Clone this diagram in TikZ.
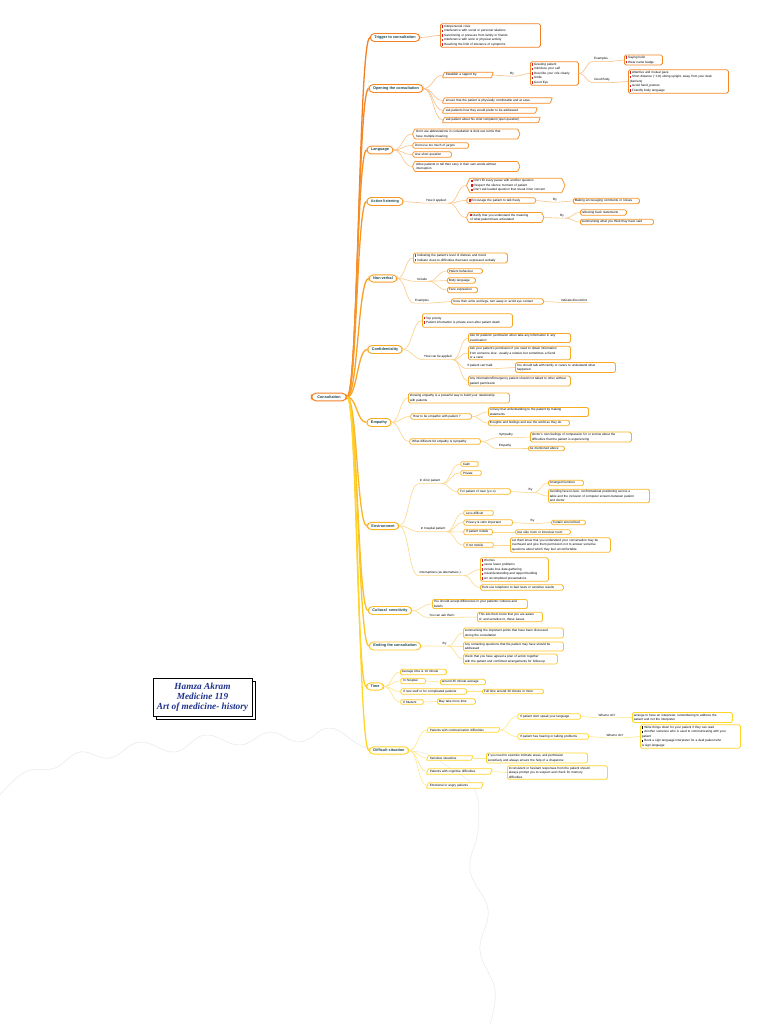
\documentclass[tikz,border=0pt]{standalone}
\usepackage{fontspec}
\setmainfont{Liberation Sans}
\newfontfamily\titleserif{Liberation Serif}
\usetikzlibrary{shapes.geometric,shapes.symbols,shadows,calc}
\definecolor{mmA}{RGB}{244,128,36}
\definecolor{mmB}{RGB}{255,214,40}
\colorlet{b1}{mmB!0!mmA}
\colorlet{b2}{mmB!9!mmA}
\colorlet{b3}{mmB!18!mmA}
\colorlet{b4}{mmB!27!mmA}
\colorlet{b5}{mmB!36!mmA}
\colorlet{b6}{mmB!45!mmA}
\colorlet{b7}{mmB!54!mmA}
\colorlet{b8}{mmB!63!mmA}
\colorlet{b9}{mmB!72!mmA}
\colorlet{b10}{mmB!81!mmA}
\colorlet{b11}{mmB!90!mmA}
\colorlet{b12}{mmB!99!mmA}
\colorlet{brc}{b1}
\definecolor{topictext}{RGB}{28,72,78}
\definecolor{prired}{RGB}{214,30,38}
\definecolor{titleblue}{RGB}{30,50,140}
\newcommand{\boxfont}{\fontsize{3.1}{4.5}\selectfont}
\newcommand{\topicfont}{\fontsize{3.8}{4.6}\selectfont\bfseries}
\newcommand{\pri}{\textcolor{prired}{\rule[-.3pt]{1.4pt}{2.5pt}}\hspace{.9pt}}
\newcommand{\blk}{\rule[-.3pt]{1.6pt}{2.3pt}\hspace{.9pt}}

\begin{document}
\begin{tikzpicture}[x=1pt, y=-1pt,
  root/.style={draw=mmA, line width=1pt, fill=white, rounded corners=5pt, inner xsep=6pt, inner ysep=2.6pt, font=\topicfont, text=topictext},
  topic/.style={draw=brc, line width=.9pt, fill=white, rounded corners=4pt, inner xsep=4pt, inner ysep=2.2pt, font=\topicfont, text=topictext},
  box/.style={draw=brc, line width=.75pt, fill=white, rounded corners=1.5pt, inner xsep=1.5pt, inner ysep=1.2pt, align=left, font=\boxfont, text width=#1, anchor=west},
  hex/.style={box=#1, shape=signal, signal to=east and west, signal pointer angle=130, rounded corners=.6pt},
  para/.style={box=#1, shape=trapezium, trapezium left angle=70, trapezium right angle=110, rounded corners=.6pt},
  lbl/.style={font=\boxfont, inner sep=1pt},
  main/.style={line width=1.3pt},
  sub/.style={draw=brc!55, line width=.6pt},
  link/.style={to path={.. controls ($(\tikztostart -| \tikztotarget)!.5!(\tikztostart)$) and ($(\tikztotarget -| \tikztostart)!.5!(\tikztotarget)$) .. (\tikztotarget)}},
  title/.style={draw=black, line width=.8pt, fill=white, copy shadow={shadow xshift=3pt, shadow yshift=-3pt}, minimum width=99pt, minimum height=38pt, inner xsep=1pt, align=center, text=titleblue, font=\titleserif\fontsize{9.3}{10.2}\selectfont\bfseries\itshape}
]
\useasboundingbox (0,0) rectangle (768,1024);
\fill[white] (0,0) rectangle (768,1024);

% faint sketch under the map
\draw[gray!18, line width=.5pt] plot[smooth, tension=.7] coordinates {(0,795) (25,772) (55,768) (80,752) (110,758) (140,742) (175,752) (205,735) (240,745) (270,732) (300,742) (330,728) (360,745) (390,755) (420,752) (450,768) (475,790) (478,830) (470,870) (488,910) (480,950) (495,990) (490,1024)};

% title
\node[title] (ttl) at (202.5,697) {Hamza Akram\\Medicine 119\\Art of medicine- history};

\node[root] (R) at (329,397) {Consultation};

% trigger
\begin{scope}
\colorlet{brc}{b1}
\node[topic] (T) at (395,37.5) {Trigger to consultation};
\node[box=97pt] (T1) at (440,35.5) {\pri Interpersonal crisis\\ \pri Interference with social or personal relations\\ \pri Sanctioning or pressure from family or friends\\ \pri Interference with work or physical activity\\ \pri Reaching the limit of tolerance of symptoms};
\draw[main, b1] (R.east) to[link] (T.west);
\draw[sub] (T.east) to[link] (T1.west);
\end{scope}

% opening
\begin{scope}
\colorlet{brc}{b2}
\node[topic] (O) at (396,88.5) {Opening the consultation};
\node[para=44pt] (O1) at (443,75) {Establish a rapport by:};
\node[lbl] (O1l) at (512,73.5) {By};
\node[box=45pt] (O2) at (530,73.5) {\pri Greeting patient\\ \pri Introduce your self\\ \pri Describe your role clearly\\ \pri Smile\\ \pri Good Eye};
\node[lbl] (O2a) at (601,59) {Examples};
\node[box=35pt] (O3) at (624,60) {\pri Saying hello\\ \pri Wear name badge};
\node[lbl] (O2b) at (602,80) {Good Body};
\node[box=97pt] (O4) at (628,81.5) {\pri Attentive and mutual gaze\\ \pri Short distance (\textasciitilde 1m) sitting upright, away from your desk\\ (barriers)\\ \pri Avoid hand\_posture\\ \pri Friendly body language};
\node[para=103pt] (O5) at (443,100.5) {ensure that the patient is physically comfortable and at ease.};
\node[para=88pt] (O6) at (443,110.5) {ask patients how they would prefer to be addressed};
\node[para=91pt] (O7) at (443,120) {ask patient about his chief complaint (open question)};
\draw[main, b2] (R.east) to[link] (O.west);
\draw[sub] (O.east) to[link] (O1.west);
\draw[sub] (O1.east) to[link] (O1l.south west) -- (O1l.south east) to[link] (O2.west);
\draw[sub] (O2.east) to[link] (O2a.south west) -- (O2a.south east) to[link] (O3.west);
\draw[sub] (O2.east) to[link] (O2b.south west) -- (O2b.south east) to[link] (O4.west);
\draw[sub] (O.east) to[link] (O5.west);
\draw[sub] (O.east) to[link] (O6.west);
\draw[sub] (O.east) to[link] (O7.west);
\end{scope}

% language
\begin{scope}
\colorlet{brc}{b3}
\node[topic] (L) at (380,150) {Language};
\node[hex=100pt] (L1) at (412,134) {Dont use abbreviations in consultation \& dont use terms that\\ have multiple meaning};
\node[hex=51pt] (L2) at (412,145.5) {Dont use too much of jargon};
\node[hex=34pt] (L3) at (412,154.5) {Use short question};
\node[hex=100pt] (L4) at (412,166.5) {Allow patients to tell their story in their own words without\\ interruption};
\draw[main, b3] (R.east) to[link] (L.west);
\foreach \n in {L1,L2,L3,L4}
  \draw[sub] (L.east) to[link] (\n.west);
\end{scope}

% active listening
\begin{scope}
\colorlet{brc}{b4}
\node[topic] (A) at (385,201.5) {Active listening};
\node[lbl] (A0) at (437,200.5) {How it applied :};
\node[hex=89pt] (A1) at (466,185.5) {\pri Don't fill every pause with another question\\ \pri Respect the silence moment of patient\\ \pri Don't ask leaded question that reveal inner concern};
\node[hex=64pt] (A2) at (466,200.5) {\pri Encourage the patient to talk freely};
\node[lbl] (A2l) at (555,199.5) {By};
\node[box=63pt] (A2a) at (573,201) {Making encouraging comments or noises};
\node[hex=70pt] (A3) at (466,217.5) {\pri Clarify that you understand the meaning\\ of what patient have articulated};
\node[lbl] (A3l) at (562,215.5) {By};
\node[box=43pt] (A3a) at (580,212.5) {reflecting back statements};
\node[box=70pt] (A3b) at (580,222) {summarizing what you think they have said};
\draw[main, b4] (R.east) to[link] (A.west);
\draw[sub] (A.east) to[link] (A0.south west) -- (A0.south east);
\foreach \n in {A1,A2,A3}
  \draw[sub] (A0.south east) to[link] (\n.west);
\draw[sub] (A2.east) to[link] (A2l.south west) -- (A2l.south east) to[link] (A2a.west);
\draw[sub] (A3.east) to[link] (A3l.south west) -- (A3l.south east) to[link] (A3a.west);
\draw[sub] (A3l.south east) to[link] (A3b.west);
\end{scope}

% non verbal
\begin{scope}
\colorlet{brc}{b5}
\node[topic] (N) at (383,278.5) {Non verbal};
\node[box=91pt] (N1) at (413,258) {\pri Indicating the patient's level of distress and mood\\ \pri Indicate clues to difficulties that were expressed verbally};
\node[lbl] (N2) at (422,279) {Include};
\node[box=32pt] (N2a) at (447,271) {Patient behaviour};
\node[box=25pt] (N2b) at (447,280.5) {Body language};
\node[box=27pt] (N2c) at (447,290) {Face expression};
\node[lbl] (N3) at (422,300.5) {Examples};
\node[box=89pt] (N3a) at (451,301.5) {cross their arms and legs, turn away or avoid eye contact};
\node[lbl] (N3l) at (574,300) {Indicate discomfort};
\draw[main, b5] (R.east) to[link] (N.west);
\draw[sub] (N.east) to[link] (N1.west);
\draw[sub] (N.east) to[link] (N2.south west) -- (N2.south east);
\foreach \n in {N2a,N2b,N2c}
  \draw[sub] (N2.south east) to[link] (\n.west);
\draw[sub] (N.east) to[link] (N3.south west) -- (N3.south east) to[link] (N3a.west);
\draw[sub] (N3a.east) to[link] (N3l.south west) -- (N3l.south east);
\end{scope}

% confidentiality
\begin{scope}
\colorlet{brc}{b6}
\node[topic] (C) at (385,349.5) {Confidentiality};
\node[box=87pt, inner ysep=3pt] (C1) at (422,320.5) {\pri Top priority\\ \pri Patient information is private even after patient death};
\node[lbl] (C2) at (438,357) {How can be applied};
\node[box=99pt] (C2a) at (468,338) {Ask for patients' permission when take any information in any\\ examination};
\node[box=99pt] (C2b) at (468,353) {Ask your patient's permission if you need to obtain information\\ from someone else: usually a relative but sometimes a friend\\ or a carer};
\node[lbl] (C2c) at (480,366) {If patient can't talk};
\node[box=97pt] (C2c1) at (515,367.5) {You should talk with family or carers to understand what\\ happened};
\node[box=99pt] (C2d) at (468,381) {Any information/Emergency patient should not talked to other without\\ patient permission};
\draw[main, b6] (R.east) to[link] (C.west);
\draw[sub] (C.east) to[link] (C1.west);
\draw[sub] (C.east) to[link] (C2.south west) -- (C2.south east);
\foreach \n in {C2a,C2b,C2d}
  \draw[sub] (C2.south east) to[link] (\n.west);
\draw[sub] (C2.south east) to[link] (C2c.south west) -- (C2c.south east) to[link] (C2c1.west);
\end{scope}

% empathy
\begin{scope}
\colorlet{brc}{b7}
\node[topic] (E) at (379,422.5) {Empathy};
\node[box=98pt] (E1) at (408,398) {showing empathy is a powerful way to build your relationship\\ with patients};
\node[hex=56pt] (E2) at (410,416.5) {How to be empathic with patient ?};
\node[box=97pt] (E2a) at (488,412) {convey that understanding to the patient by making\\ statements};
\node[box=78pt] (E2b) at (488,423) {thoughts and feelings and see the world as they do.};
\node[hex=66pt] (E3) at (409,441.5) {What different b/t empathy \& sympathy};
\node[lbl] (E3a) at (506,435) {Sympathy};
\node[box=98pt] (E3a1) at (530,437) {doctor's own feelings of compassion for or sorrow about the\\ difficulties that the patient is experiencing};
\node[lbl] (E3b) at (505,446) {Empathy};
\node[box=33pt] (E3b1) at (528,448.5) {As mentioned above};
\draw[main, b7] (R.east) to[link] (E.west);
\foreach \n in {E1,E2,E3}
  \draw[sub] (E.east) to[link] (\n.west);
\draw[sub] (E2.east) to[link] (E2a.west);
\draw[sub] (E2.east) to[link] (E2b.west);
\draw[sub] (E3.east) to[link] (E3a.south west) -- (E3a.south east) to[link] (E3a1.west);
\draw[sub] (E3.east) to[link] (E3b.south west) -- (E3b.south east) to[link] (E3b1.west);
\end{scope}

% environment
\begin{scope}
\colorlet{brc}{b8}
\node[topic] (V) at (383,526) {Environment};
\node[lbl] (V1) at (430,481) {In clinic patient};
\node[hex=13pt] (V1a) at (460,464) {Calm};
\node[hex=16pt] (V1b) at (460,473) {Private};
\node[hex=48pt] (V1c) at (457,491.5) {For patient of near (y.o.o)};
\node[lbl] (V1cl) at (530.5,490) {By};
\node[box=32pt] (V1c1) at (548,483) {Arranged furniture};
\node[box=98pt] (V1c2) at (548,496) {Avoiding face-to-face, confrontational positioning across a\\ table and the inclusion of computer screens between patient\\ and doctor.};
\node[lbl] (V2) at (433,529) {In hospital patient};
\node[hex=25pt] (V2a) at (463,513) {Less difficult};
\node[hex=44pt] (V2b) at (463,522.5) {Privacy \& calm important};
\node[lbl] (V2bl) at (532.5,521) {By};
\node[box=31pt] (V2b1) at (551,522.5) {Curtain around bed};
\node[hex=24pt] (V2c) at (463,532) {If patient mobile};
\node[box=52pt] (V2c1) at (515,532) {Use side room or interview room};
\node[hex=25pt] (V2d) at (463,545) {If not mobile};
\node[box=97pt] (V2d1) at (510,545) {Let them know that you understand your conversation may be\\ overheard and give them permission not to answer sensitive\\ questions about which they feel uncomfortable.};
\node[lbl] (V3) at (441,573) {Interruptions (as alternatives ) :};
\node[box=65pt] (V3a) at (480,569.5) {\pri Worries\\ \pri cause fewer problems\\ \pri include loss data gathering\\ \pri misunderstanding and rapport building\\ \pri An uncompleted presentations};
\node[box=80pt] (V3b) at (480,587.5) {Dont use telephone to bad news or sensitive results};
\draw[main, b8] (R.east) to[link] (V.west);
\draw[sub] (V.east) to[link] (V1.south west) -- (V1.south east);
\foreach \n in {V1a,V1b,V1c}
  \draw[sub] (V1.south east) to[link] (\n.west);
\draw[sub] (V1c.east) to[link] (V1cl.south west) -- (V1cl.south east) to[link] (V1c1.west);
\draw[sub] (V1cl.south east) to[link] (V1c2.west);
\draw[sub] (V.east) to[link] (V2.south west) -- (V2.south east);
\foreach \n in {V2a,V2b,V2c,V2d}
  \draw[sub] (V2.south east) to[link] (\n.west);
\draw[sub] (V2b.east) to[link] (V2bl.south west) -- (V2bl.south east) to[link] (V2b1.west);
\draw[sub] (V2c.east) to[link] (V2c1.west);
\draw[sub] (V2d.east) to[link] (V2d1.west);
\draw[sub] (V.east) to[link] (V3.south west) -- (V3.south east);
\draw[sub] (V3.south east) to[link] (V3a.west);
\draw[sub] (V3.south east) to[link] (V3b.west);
\end{scope}

% cultural sensitivity
\begin{scope}
\colorlet{brc}{b9}
\node[topic] (U) at (390,610.5) {Cultural\ \ sensitivity};
\node[box=92pt] (U1) at (432,604) {You should accept differences in your patients' cultures and\\ beliefs};
\node[lbl] (U2) at (442,615) {You can ask them:};
\node[box=62pt] (U2a) at (477,617) {This lets them know that you are aware\\ of, and sensitive to, these issues};
\draw[main, b9] (R.east) to[link] (U.west);
\draw[sub] (U.east) to[link] (U1.west);
\draw[sub] (U.east) to[link] (U2.south west) -- (U2.south east) to[link] (U2a.west);
\end{scope}

% ending
\begin{scope}
\colorlet{brc}{b10}
\node[topic] (D) at (395,646) {Ending the consultation};
\node[lbl] (D0) at (444.5,643.5) {By};
\node[box=97pt] (D1) at (463,633) {summarizing the important points that have been discussed\\ during the consultation};
\node[box=97pt] (D2) at (463,646.5) {Any remaining questions that the patient may have should be\\ addressed};
\node[box=91pt] (D3) at (463,659) {check that you have agreed a plan of action together\\ with the patient and confirmed arrangements for follow-up};
\draw[main, b10] (R.east) to[link] (D.west);
\draw[sub] (D.east) to[link] (D0.south west) -- (D0.south east);
\foreach \n in {D1,D2,D3}
  \draw[sub] (D0.south east) to[link] (\n.west);
\end{scope}

% time
\begin{scope}
\colorlet{brc}{b11}
\node[topic] (M) at (375,686.5) {Time};
\node[box=43pt] (M1) at (400,672) {Average time is 10 minute};
\node[hex=20pt] (M2) at (400,681) {In hospital};
\node[box=42pt] (M2a) at (440,682) {around 45 minute average};
\node[hex=61pt] (M3) at (400,691.5) {If new staff or for complicated patients};
\node[box=58pt] (M3a) at (482,691.5) {Full time around 30 minute or more};
\node[hex=18pt] (M4) at (400,702) {If Student};
\node[box=35pt] (M4a) at (437,701.5) {May take more time};
\draw[main, b11] (R.east) to[link] (M.west);
\foreach \n in {M1,M2,M3,M4}
  \draw[sub] (M.east) to[link] (\n.west);
\draw[sub] (M2.east) to[link] (M2a.west);
\draw[sub] (M3.east) to[link] (M3a.west);
\draw[sub] (M4.east) to[link] (M4a.west);
\end{scope}

% difficult situation
\begin{scope}
\colorlet{brc}{b12}
\node[topic] (S) at (389,750.5) {Difficult situation};
\node[para=67pt] (S1) at (427,730) {Patients with communication difficulties};
\node[hex=58pt] (S1a) at (517,716.5) {If patient dont speak your language};
\node[lbl] (S1al) at (607,715.5) {What to do?};
\node[box=97pt] (S1a1) at (632,717.5) {arrange to have an interpreter, remembering to address the\\ patient and not the interpreter};
\node[hex=66pt] (S1b) at (517,736.5) {If patient has hearing or talking problems};
\node[lbl] (S1bl) at (615,735.5) {What to do?};
\node[box=97pt] (S1b1) at (640,736.5) {\blk Write things down for your patient if they can read\\ \blk Another someone who is used to communicating with your\\ patient\\ \blk Book a sign language interpreter for a deaf patient who\\ is sign language};
\node[para=40pt] (S2) at (427,758) {Sensitive situations};
\node[box=98pt] (S2a) at (486,758) {If you need to examine intimate areas, ask permission\\ sensitively and always ensure the help of a chaperone};
\node[para=59pt] (S3) at (427,771.5) {Patients with cognitive difficulties};
\node[box=97pt] (S3a) at (507,772.5) {Inconsistent or hesitant responses from the patient should\\ always prompt you to suspect and check for memory\\ difficulties};
\node[para=50pt] (S4) at (427,785.5) {Emotional or angry patients};
\draw[main, b12] (R.east) to[link] (S.west);
\foreach \n in {S1,S2,S3,S4}
  \draw[sub] (S.east) to[link] (\n.west);
\draw[sub] (S1.east) to[link] (S1a.west);
\draw[sub] (S1.east) to[link] (S1b.west);
\draw[sub] (S1a.east) to[link] (S1al.south west) -- (S1al.south east) to[link] (S1a1.west);
\draw[sub] (S1b.east) to[link] (S1bl.south west) -- (S1bl.south east) to[link] (S1b1.west);
\draw[sub] (S2.east) to[link] (S2a.west);
\draw[sub] (S3.east) to[link] (S3a.west);
\end{scope}
\end{tikzpicture}
\end{document}
